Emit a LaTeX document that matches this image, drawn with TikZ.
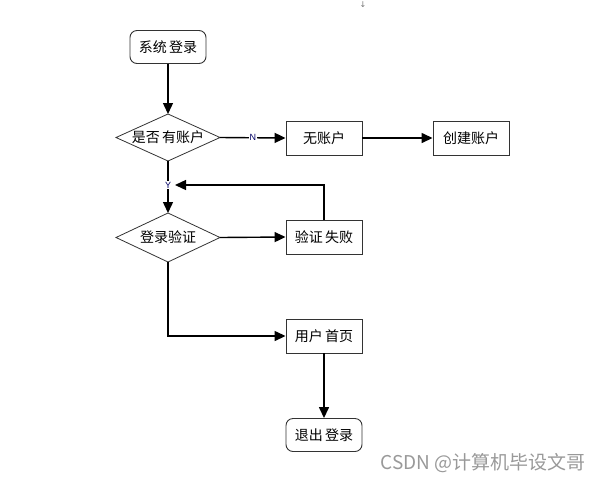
\documentclass[tikz,border=0pt]{standalone}
\usepackage{fontspec}
\setmainfont{Liberation Sans}
\newfontfamily\cjk{Noto Sans CJK SC}
\newfontfamily\dv{DejaVu Sans}
\usetikzlibrary{arrows.meta}
\newcommand{\gp}{\hspace{2.5pt}}
\begin{document}
\begin{tikzpicture}[x=1pt,y=-1pt,
  txt/.style={font=\cjk\fontsize{14}{14}\selectfont},
  base/.style={txt, draw=black!80, line width=0.9pt, minimum width=76pt, minimum height=34pt, inner sep=0pt, fill=white},
  term/.style={base, rounded corners=7pt, minimum height=33pt},
  proc/.style={base},
  dec/.style={draw=black!80, line width=0.8pt, fill=white},
  conn/.style={line width=1.4pt, -{Triangle[length=11pt,width=10pt]}},
  lab/.style={font=\fontsize{9}{9}\selectfont, text=blue!40!black, fill=white, inner sep=0.5pt}
]
\useasboundingbox (0,0) rectangle (604,483);
\node[term] (start) at (168,47) {系统\gp 登录};
\coordinate (d1t) at (168,114); \coordinate (d1r) at (220,137.5); \coordinate (d1b) at (168,161); \coordinate (d1l) at (116,137.5);
\draw[dec] (d1t) -- (d1r) -- (d1b) -- (d1l) -- cycle;
\node[txt] (d1) at (168,137.5) {是否\gp 有账户};
\node[proc] (noacc) at (324,138) {无账户};
\node[proc] (create) at (471,138) {创建账户};
\coordinate (d2t) at (168,213); \coordinate (d2r) at (220,237.5); \coordinate (d2b) at (168,262); \coordinate (d2l) at (116,237.5);
\draw[dec] (d2t) -- (d2r) -- (d2b) -- (d2l) -- cycle;
\node[txt] (d2) at (168,237.5) {登录验证};
\node[proc] (fail) at (324,237) {验证\gp 失败};
\node[proc] (home) at (324,336) {用户\gp 首页};
\node[term] (exit) at (324,435) {退出\gp 登录};
\coordinate (loopend) at (175,185);
\draw[conn] (start.south) -- (d1t);
\draw[conn] (d1r) -- node[lab] {N} (noacc.west);
\draw[conn] (noacc.east) -- (create.west);
\draw[conn] (d1b) -- node[lab, pos=0.46] (ylab) {Y} (d2t);
\draw[conn] (fail.north) |- (loopend);
\draw[conn] (d2r) -- (fail.west);
\draw[conn] (d2b) |- (home.west);
\draw[conn] (home.south) -- (exit.north);
\node[font=\dv\fontsize{8}{8}\selectfont, text=black!55] (mark) at (363,5) {↓};
\node[font=\cjk\fontsize{19}{19}\selectfont, text=black!40, anchor=east] (wm) at (589,463) {CSDN @计算机毕设文哥};
\end{tikzpicture}
\end{document}
